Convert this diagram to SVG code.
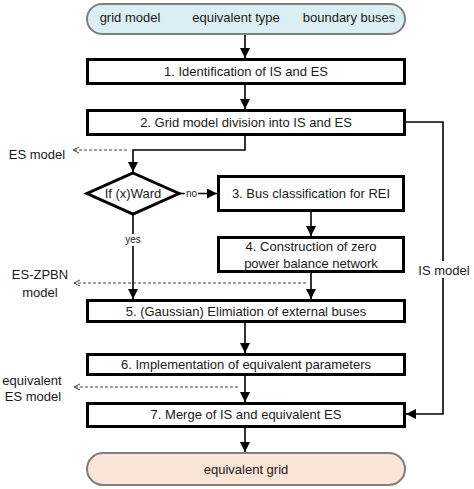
<svg xmlns="http://www.w3.org/2000/svg" width="474" height="489" viewBox="0 0 474 489">
<style>
text{font-family:"Liberation Sans",Arial,sans-serif;font-size:13px;fill:#1a1a1a;text-anchor:middle}
.box{fill:#fff;stroke:#000;stroke-width:3}
.term{stroke:#7f7f7f;stroke-width:2}
.ln{fill:none;stroke:#000;stroke-width:1.6}
.dash{fill:none;stroke:#444;stroke-width:1;stroke-dasharray:3,2}
.sm{font-size:10px}
</style>
<defs>
<marker id="ah" markerUnits="userSpaceOnUse" markerWidth="10" markerHeight="10" refX="10" refY="5" orient="auto"><path d="M0,0 L10,5 L0,10 z" fill="#000"/></marker>
<marker id="oh" markerUnits="userSpaceOnUse" markerWidth="8" markerHeight="8" refX="7" refY="4" orient="auto"><path d="M1,1 L7,4 L1,7" fill="none" stroke="#444" stroke-width="1"/></marker>
</defs>
<rect width="474" height="489" fill="#fff"/>
<g id="connectors">
<line class="ln" x1="245" y1="35" x2="245" y2="58" marker-end="url(#ah)"/>
<line class="ln" x1="245" y1="85" x2="245" y2="109" marker-end="url(#ah)"/>
<polyline class="ln" points="245,136 245,150 133,150 133,172" marker-end="url(#ah)"/>
<line class="dash" x1="127" y1="150" x2="73" y2="150" marker-end="url(#oh)"/>
<line class="ln" x1="180" y1="193.5" x2="217" y2="193.5" marker-end="url(#ah)"/>
<rect x="185" y="187" width="13" height="12" fill="#fff"/>
<text class="sm" x="191.5" y="196.5">no</text>
<line class="ln" x1="133" y1="215" x2="133" y2="299" marker-end="url(#ah)"/>
<rect x="123" y="234" width="20" height="12" fill="#fff"/>
<text class="sm" x="133" y="243">yes</text>
<line class="ln" x1="311" y1="212" x2="311" y2="236" marker-end="url(#ah)"/>
<line class="ln" x1="311" y1="273" x2="311" y2="299" marker-end="url(#ah)"/>
<line class="dash" x1="306" y1="283" x2="74" y2="283" marker-end="url(#oh)"/>
<line class="ln" x1="245" y1="323" x2="245" y2="353" marker-end="url(#ah)"/>
<line class="ln" x1="245" y1="376" x2="245" y2="402" marker-end="url(#ah)"/>
<line class="dash" x1="238" y1="387" x2="74" y2="387" marker-end="url(#oh)"/>
<polyline class="ln" points="406,122 443,122 443,414 406,414" marker-end="url(#ah)"/>
<rect x="417" y="261" width="56" height="17" fill="#fff"/>
<text x="444" y="275">IS model</text>
<line class="ln" x1="245" y1="428" x2="245" y2="452" marker-end="url(#ah)"/>
<text x="37" y="159">ES model</text>
<text x="40" y="279">ES-ZPBN</text>
<text x="40" y="297">model</text>
<text x="32" y="385">equivalent</text>
<text x="33" y="401">ES model</text>
</g>
<g id="start">
<rect class="term" x="87" y="4" width="318" height="30" rx="15" fill="#daeef3"/>
<text x="130" y="22">grid model</text>
<text x="236" y="22">equivalent type</text>
<text x="349" y="22">boundary buses</text>
</g>
<g id="step1"><rect class="box" x="87.5" y="59.5" width="317" height="24"/><text x="246" y="76">1. Identification of IS and ES</text></g>
<g id="step2"><rect class="box" x="87.5" y="110.5" width="317" height="24"/><text x="246" y="127">2. Grid model division into IS and ES</text></g>
<g id="decision"><polygon class="box" points="133,173 179,193.5 133,214 87,193.5"/><text x="133" y="198">If (x)Ward</text></g>
<g id="step3"><rect class="box" x="218.5" y="176.5" width="185" height="34"/><text x="311" y="198">3. Bus classification for REI</text></g>
<g id="step4"><rect class="box" x="218.5" y="237.5" width="185" height="34"/><text x="311" y="251">4. Construction of zero</text><text x="311" y="268">power balance network</text></g>
<g id="step5"><rect class="box" x="87.5" y="300.5" width="317" height="21"/><text x="246" y="316">5. (Gaussian) Elimiation of external buses</text></g>
<g id="step6"><rect class="box" x="87.5" y="354.5" width="317" height="20"/><text x="246" y="369">6. Implementation of equivalent parameters</text></g>
<g id="step7"><rect class="box" x="87.5" y="403.5" width="317" height="23"/><text x="246" y="419">7. Merge of IS and equivalent ES</text></g>
<g id="end">
<rect class="term" x="87" y="453" width="318" height="32" rx="16" fill="#fbe5d6"/>
<text x="246" y="474">equivalent grid</text>
</g>
</svg>
